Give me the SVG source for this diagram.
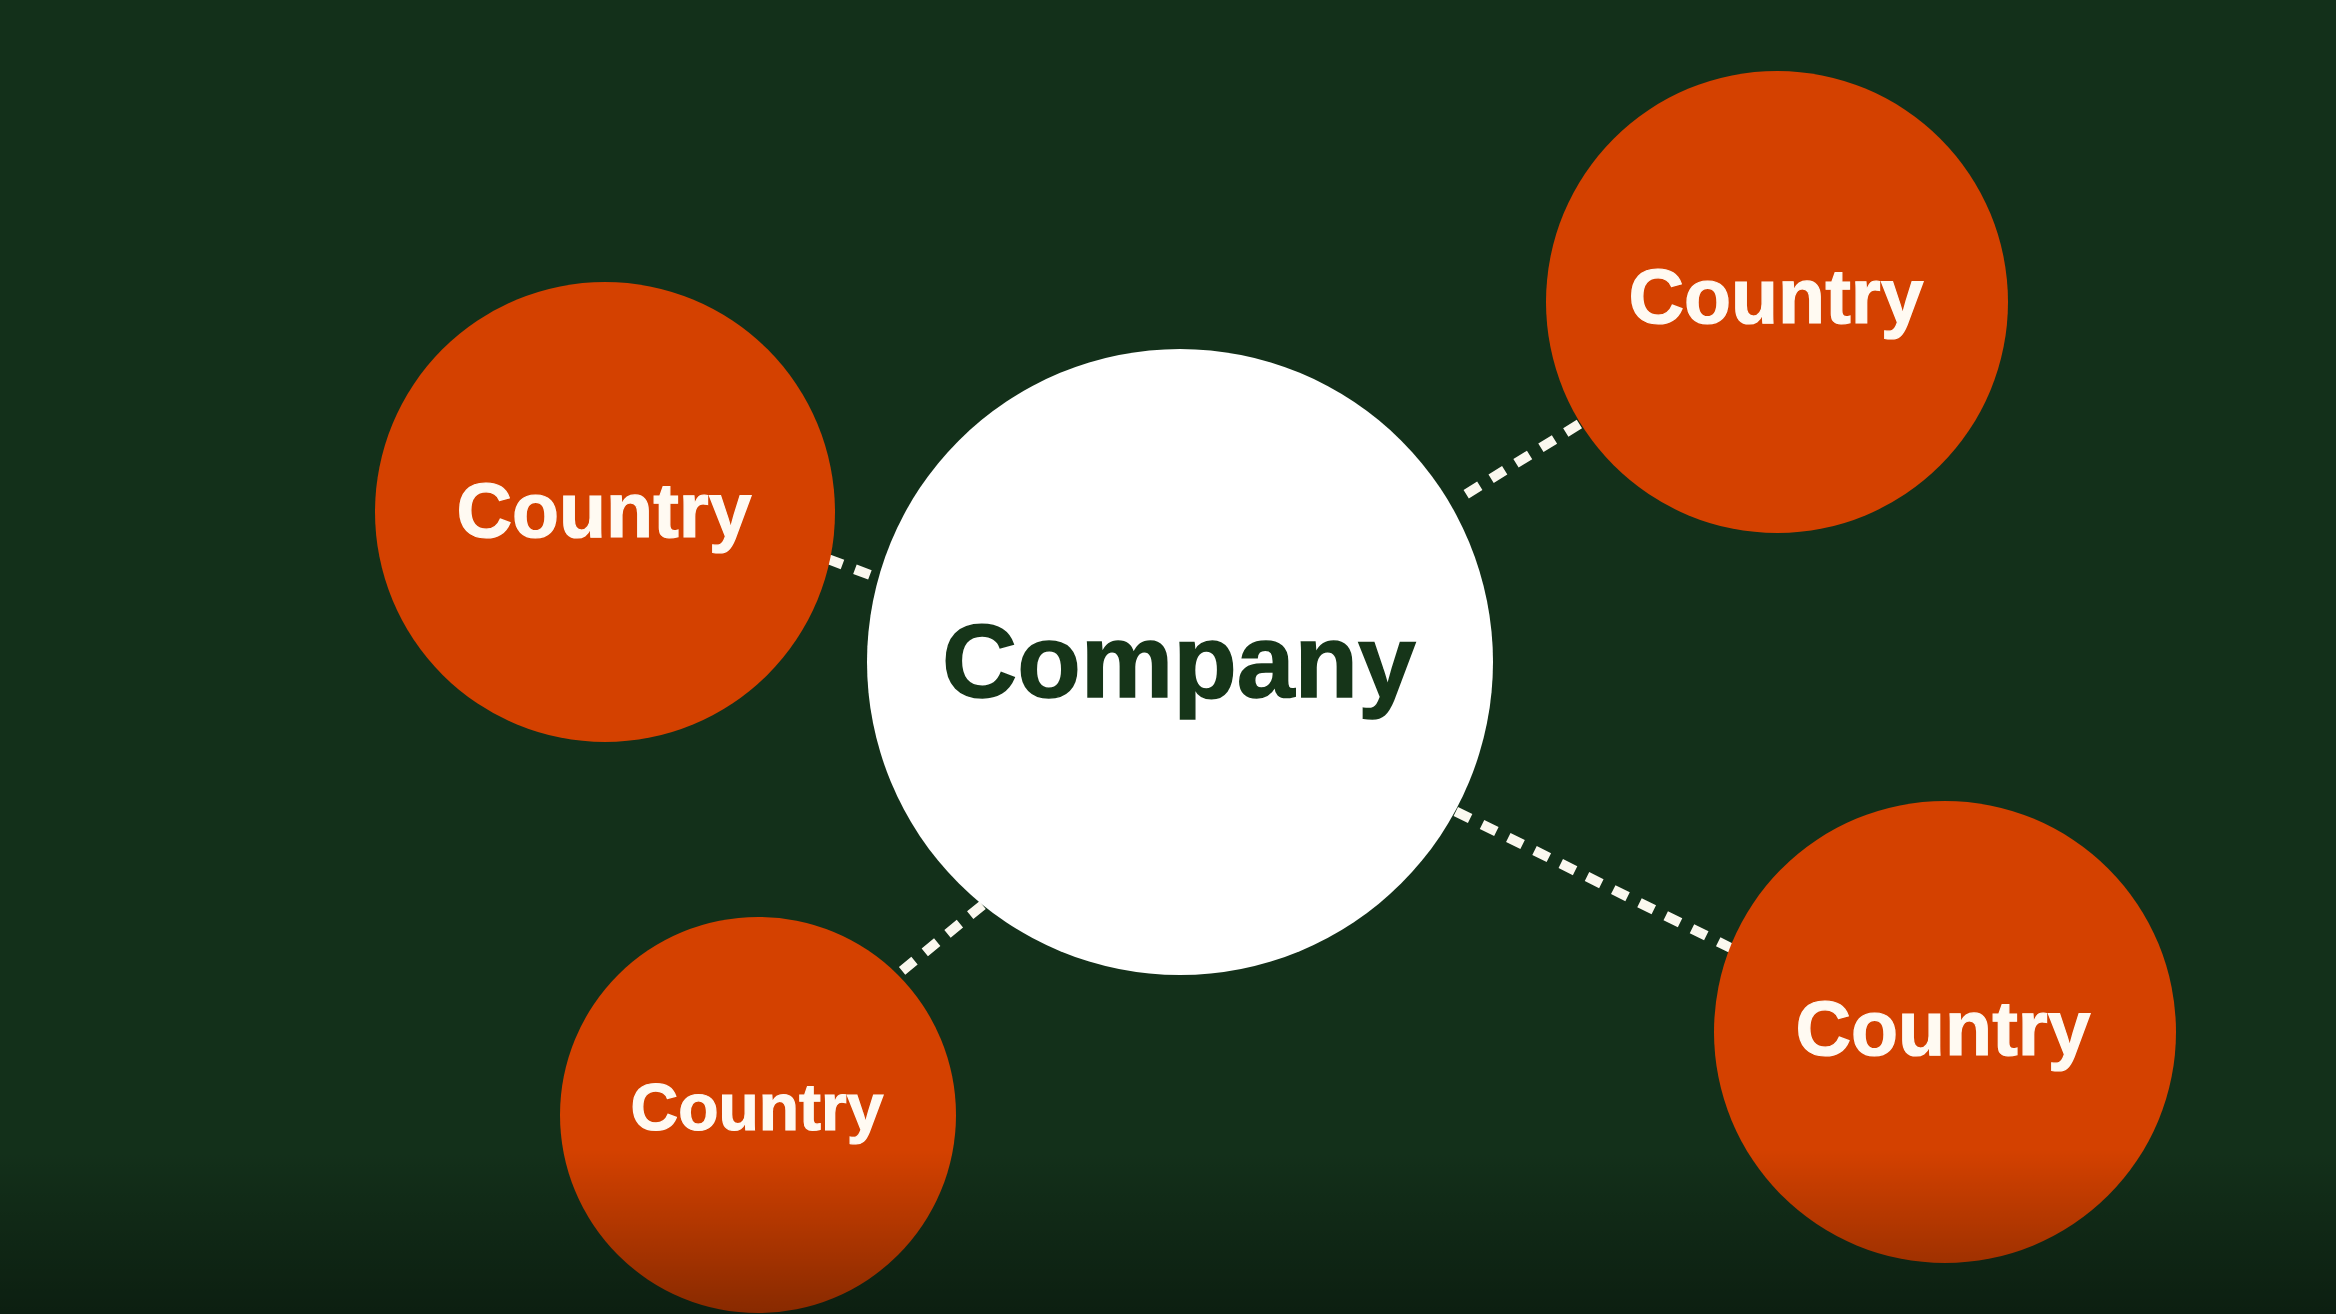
<svg xmlns="http://www.w3.org/2000/svg" width="2336" height="1314" viewBox="0 0 2336 1314">
  <defs>
    <linearGradient id="shade" x1="0" y1="0" x2="0" y2="1">
      <stop offset="0" stop-color="#000" stop-opacity="0"/>
      <stop offset="1" stop-color="#000" stop-opacity="0.36"/>
    </linearGradient>
  </defs>
  <style>
    .bg { fill: #13301a; }
    .link { stroke: #fbf8ef; stroke-width: 10; stroke-dasharray: 16 13.3; fill: none; }
    .country { fill: #d44100; }
    .company { fill: #ffffff; }
    .clabel { font-family: "Liberation Sans", Arial, sans-serif; font-weight: bold; fill: #fffaf2; stroke: #fffaf2; stroke-width: 1.2; text-anchor: middle; }
    .mlabel { font-family: "Liberation Sans", Arial, sans-serif; font-weight: bold; fill: #163519; stroke: #163519; stroke-width: 1.5; text-anchor: middle; font-size: 104px; }
  </style>
  <rect class="bg" x="0" y="0" width="2336" height="1314"/>
  <g id="connectors">
    <line class="link" x1="827.5" y1="558.9" x2="905" y2="588"/>
    <line class="link" x1="1466.2" y1="494.2" x2="1610" y2="405"/>
    <line class="link" x1="1455.8" y1="811.4" x2="1765" y2="965"/>
    <line class="link" x1="902.1" y1="970.8" x2="995" y2="895"/>
  </g>
  <g id="company">
    <circle class="company" cx="1180" cy="662" r="313"/>
    <text class="mlabel" x="1179" y="697">Company</text>
  </g>
  <g id="country-top-left">
    <circle class="country" cx="605" cy="512" r="230"/>
    <text class="clabel" x="604" y="537" font-size="77">Country</text>
  </g>
  <g id="country-top-right">
    <circle class="country" cx="1777" cy="302" r="231"/>
    <text class="clabel" x="1776" y="323" font-size="77">Country</text>
  </g>
  <g id="country-bottom-right">
    <circle class="country" cx="1945" cy="1032" r="231"/>
    <text class="clabel" x="1943" y="1055" font-size="77">Country</text>
  </g>
  <g id="country-bottom-left">
    <circle class="country" cx="758" cy="1115" r="198"/>
    <text class="clabel" x="757" y="1130" font-size="66">Country</text>
  </g>
  <rect x="0" y="1150" width="2336" height="164" fill="url(#shade)"/>
</svg>
